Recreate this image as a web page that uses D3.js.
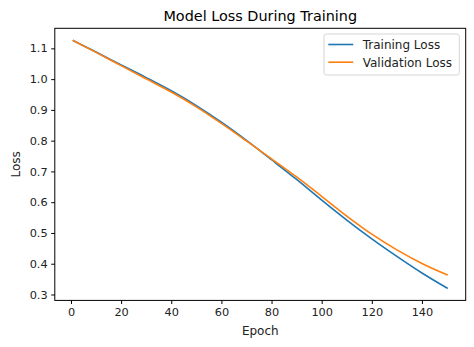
<!DOCTYPE html>
<html>
<head>
<meta charset="utf-8">
<script src="https://cdn.jsdelivr.net/npm/d3@7"></script>
<style>
  html, body { margin: 0; padding: 0; background: #fff; }
  svg { display: block; font-family: "DejaVu Sans", sans-serif; }
</style>
</head>
<body>
<svg id="chart" width="474" height="347"></svg>
<script>
// ---- data ----
const epochs         = [1, 10, 20, 30, 40, 50, 60, 70, 80, 90, 100, 110, 120, 130, 140, 150];
const trainingLoss   = [1.125, 1.088, 1.046, 1.005, 0.962, 0.914, 0.860, 0.801, 0.738, 0.674, 0.607, 0.542, 0.481, 0.424, 0.370, 0.321];
const validationLoss = [1.125, 1.087, 1.044, 1.001, 0.958, 0.910, 0.856, 0.799, 0.741, 0.682, 0.619, 0.555, 0.496, 0.445, 0.401, 0.364];
const xTicks = [0, 20, 40, 60, 80, 100, 120, 140];
const yTicks = [0.3, 0.4, 0.5, 0.6, 0.7, 0.8, 0.9, 1.0, 1.1];
const seriesNames  = ["Training Loss", "Validation Loss"];
const seriesColors = ["#1f77b4", "#ff7f0e"];
const titleText = "Model Loss During Training";
const xLabel = "Epoch";
const yLabel = "Loss";

// ---- layout ----
const svg = d3.select("#chart");
const L = 54.8, R = 465.7, T = 28.3, B = 300.4;

const xMin = d3.min(epochs), xMax = d3.max(epochs);
const xPad = (xMax - xMin) * 0.05;
const allY = trainingLoss.concat(validationLoss);
const yMin = d3.min(allY), yMax = d3.max(allY);
const yPad = (yMax - yMin) * 0.05;

const x = d3.scaleLinear().domain([xMin - xPad, xMax + xPad]).range([L, R]);
const y = d3.scaleLinear().domain([yMin - yPad, yMax + yPad]).range([B, T]);

// lines
const series = [trainingLoss, validationLoss];
const line = d3.line()
  .x((d, i) => x(epochs[i]))
  .y(d => y(d))
  .curve(d3.curveMonotoneX);

const plot = svg.append("g");
series.forEach((s, k) => {
  plot.append("path")
    .datum(s)
    .attr("fill", "none")
    .attr("stroke", seriesColors[k])
    .attr("stroke-width", 1.6)
    .attr("stroke-linejoin", "round")
    .attr("stroke-linecap", "square")
    .attr("d", line);
});

// axes
const xAxis = d3.axisBottom(x).tickValues(xTicks).tickFormat(d3.format("d"))
  .tickSizeInner(3.6).tickSizeOuter(0).tickPadding(3.6);
const yAxis = d3.axisLeft(y).tickValues(yTicks).tickFormat(d3.format(".1f"))
  .tickSizeInner(3.6).tickSizeOuter(0).tickPadding(3.6);

const gx = svg.append("g").attr("transform", `translate(0,${B})`).call(xAxis);
const gy = svg.append("g").attr("transform", `translate(${L},0)`).call(yAxis);
[gx, gy].forEach(g => {
  g.select(".domain").remove();
  g.selectAll(".tick line").attr("stroke", "#000").attr("stroke-width", 1);
  g.selectAll(".tick text").attr("fill", "#222").style("font-size", "11.3px")
    .style("font-family", "DejaVu Sans, sans-serif");
});

// frame
svg.append("rect")
  .attr("x", L).attr("y", T)
  .attr("width", R - L).attr("height", B - T)
  .attr("fill", "none").attr("stroke", "#000").attr("stroke-width", 1);

// title & labels
svg.append("text")
  .attr("x", (L + R) / 2).attr("y", 21)
  .attr("text-anchor", "middle")
  .style("font-size", "14.4px").attr("fill", "#000")
  .text(titleText);

svg.append("text")
  .attr("x", (L + R) / 2).attr("y", 335)
  .attr("text-anchor", "middle")
  .style("font-size", "12px").attr("fill", "#222")
  .text(xLabel);

svg.append("text")
  .attr("transform", `translate(19.5,${(T + B) / 2}) rotate(-90)`)
  .attr("text-anchor", "middle")
  .style("font-size", "12px").attr("fill", "#222")
  .text(yLabel);

// legend
const lg = svg.append("g");
lg.append("rect")
  .attr("x", 324).attr("y", 34)
  .attr("width", 135.3).attr("height", 41)
  .attr("rx", 2.5).attr("ry", 2.5)
  .attr("fill", "#fff").attr("fill-opacity", 0.8)
  .attr("stroke", "#d5d5d5").attr("stroke-width", 1);
seriesNames.forEach((name, k) => {
  const yy = 44.5 + k * 17.7;
  lg.append("line")
    .attr("x1", 328.3).attr("x2", 353.3)
    .attr("y1", yy).attr("y2", yy)
    .attr("stroke", seriesColors[k]).attr("stroke-width", 1.6);
  lg.append("text")
    .attr("x", 362.7).attr("y", yy + 4.3)
    .style("font-size", "12px").attr("fill", "#222")
    .text(name);
});
</script>
</body>
</html>
